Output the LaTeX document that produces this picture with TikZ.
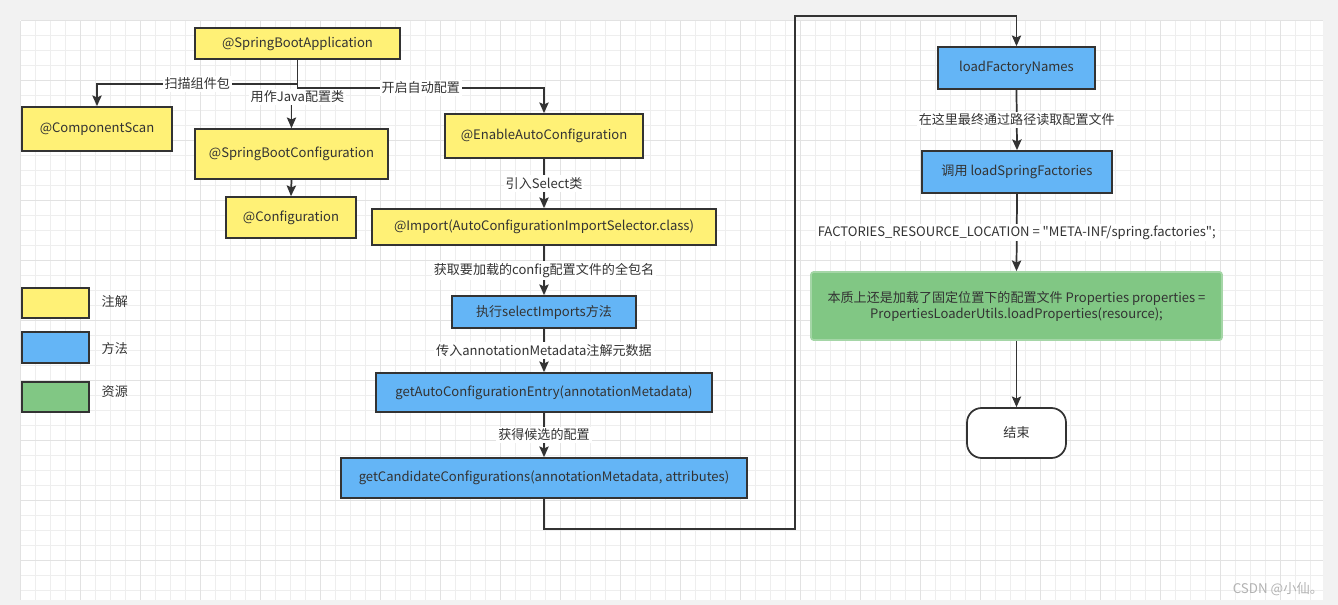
\documentclass[tikz,border=0pt]{standalone}
\usepackage{fontspec}
\setmainfont{Noto Sans CJK SC}
\usetikzlibrary{arrows.meta}
\definecolor{annoyellow}{HTML}{FFF176}
\definecolor{methblue}{HTML}{64B5F6}
\definecolor{resgreen}{HTML}{81C784}
\definecolor{resline}{HTML}{A5D6A7}
\definecolor{inkgray}{HTML}{333333}
\definecolor{canvasgray}{HTML}{F2F2F2}
\definecolor{gridminor}{HTML}{EEEEEE}
\definecolor{gridmajor}{HTML}{E2E2E2}

\begin{document}
\begin{tikzpicture}[x=0.75pt,y=-0.75pt,
    font=\fontsize{9.8}{12}\selectfont, text=inkgray,
    box/.style={draw=inkgray, line width=1.3pt, inner sep=0pt},
    anno/.style={box, fill=annoyellow},
    meth/.style={box, fill=methblue},
    res/.style={fill=resgreen, draw=resline, line width=1.3pt, rounded corners=2pt, inner sep=0pt, align=center},
    legbox/.style={box, minimum width=50.25pt, minimum height=22.5pt},
    lbl/.style={fill=white, inner sep=1.5pt},
    arr/.style={draw=inkgray, line width=1.3pt, -{Stealth[length=8pt,width=7pt,inset=1.5pt]}},
]

% canvas
\fill[canvasgray] (0,0) rectangle (1338,605);
\fill[white] (20,20) rectangle (1323,600);
\foreach \gx in {0,...,86}
    \draw[gridminor, line width=0.6pt] ({20.7+15*\gx},20.7) -- ({20.7+15*\gx},600);
\foreach \gy in {0,...,38}
    \draw[gridminor, line width=0.6pt] (20.7,{20.7+15*\gy}) -- (1323,{20.7+15*\gy});
\foreach \gx in {0,4,...,84}
    \draw[gridmajor, line width=0.6pt] ({20.7+15*\gx},20.7) -- ({20.7+15*\gx},600);
\foreach \gy in {0,4,...,36}
    \draw[gridmajor, line width=0.6pt] (20.7,{20.7+15*\gy}) -- (1323,{20.7+15*\gy});

% annotations
\node[anno, minimum width=153.75pt, minimum height=23.25pt] (sba) at (297.5,43.5) {@SpringBootApplication};
\node[anno, minimum width=112.5pt, minimum height=33pt] (cscan) at (97,129) {@ComponentScan};
\node[anno, minimum width=144.75pt, minimum height=37.5pt] (sbc) at (291.5,154) {@SpringBootConfiguration};
\node[anno, minimum width=97.5pt, minimum height=30.75pt] (conf) at (291,217.5) {@Configuration};
\node[anno, minimum width=148.5pt, minimum height=33pt] (eac) at (544,136) {@EnableAutoConfiguration};
\node[anno, minimum width=258pt, minimum height=27pt] (imp) at (544,227) {@Import(AutoConfigurationImportSelector.class)};

% methods
\node[meth, minimum width=138pt, minimum height=24pt] (sel) at (544,312) {执行selectImports方法};
\node[meth, minimum width=252pt, minimum height=29.25pt] (gace) at (544,392.5) {getAutoConfigurationEntry(annotationMetadata)};
\node[meth, minimum width=304.5pt, minimum height=30pt] (gcc) at (544,478) {getCandidateConfigurations(annotationMetadata, attributes)};
\node[meth, minimum width=117.75pt, minimum height=31.5pt] (lfn) at (1016.5,68) {loadFactoryNames};
\node[meth, minimum width=142.5pt, minimum height=31.5pt] (lsf) at (1017,172) {调用 loadSpringFactories};

% resource + end
\node[res, minimum width=308.25pt, minimum height=51pt] (props) at (1016.5,306)
    {本质上还是加载了固定位置下的配置文件 Properties properties =\\PropertiesLoaderUtils.loadProperties(resource);};
\node[box, fill=white, rounded corners=11pt, minimum width=74.25pt, minimum height=37.5pt] (fin) at (1016.5,433) {结束};

% legend
\node[legbox, fill=annoyellow] (leganno) at (55.5,303) {};
\node[legbox, fill=methblue, minimum height=23.25pt] (legmeth) at (55.5,347.5) {};
\node[legbox, fill=resgreen] (legres) at (55.5,397) {};
\node[anchor=west] (txtanno) at (97,302) {注解};
\node[anchor=west] (txtmeth) at (97,349) {方法};
\node[anchor=west] (txtres) at (97,392) {资源};

% connectors
\draw[arr] (sba.south) -- ++(0,24) -| (cscan.north) node[lbl, pos=0.25] {扫描组件包};
\draw[arr] (sba.south) -- ++(0,28) -| (eac.north) node[lbl, pos=0.25] {开启自动配置};
\draw[arr] (sba.south) -- ++(0,37) node[lbl] {用作Java配置类} -| (sbc.north);
\draw[arr] (sbc.south) -- (conf.north);
\draw[arr] (eac.south) -- (imp.north) node[lbl, midway] {引入Select类};
\draw[arr] (imp.south) -- (sel.north) node[lbl, midway] {获取要加载的config配置文件的全包名};
\draw[arr] (sel.south) -- (gace.north) node[lbl, midway] {传入annotationMetadata注解元数据};
\draw[arr] (gace.south) -- (gcc.north) node[lbl, midway] {获得候选的配置};
\coordinate (turn) at (795,16);
\draw[arr] (gcc.south) -- ++(0,30) -| (turn) -| (lfn.north);
\draw[arr] (lfn.south) -- (lsf.north) node[lbl, midway] {在这里最终通过路径读取配置文件};
\draw[arr] (lsf.south) -- (props.north) node[lbl, midway] {FACTORIES\_RESOURCE\_LOCATION = \textquotedbl META-INF/spring.factories\textquotedbl;};
\draw[arr] (props.south) -- (fin.north);

% watermark
\node[text=gray!60, font=\fontsize{10}{12}\selectfont] (mark) at (1278,589) {CSDN @小仙。};

\end{tikzpicture}
\end{document}
